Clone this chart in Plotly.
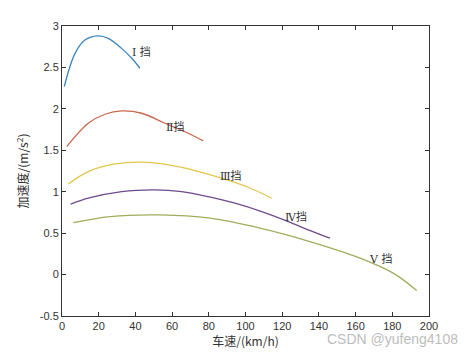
import plotly.graph_objects as go

# Gear curves: speed (km/h) vs acceleration (m/s^2)
g1_x = [1.25, 7.1, 12.5, 19.4, 25.2, 32.5, 38.0, 42.5]
g1_y = [2.27, 2.67, 2.83, 2.88, 2.85, 2.73, 2.61, 2.49]

g2_x = [2.6, 14.3, 23.4, 32.5, 43.4, 56.1, 68.8, 77.0]
g2_y = [1.544, 1.826, 1.935, 1.975, 1.947, 1.826, 1.706, 1.613]

g3_x = [3.4, 14.3, 28.9, 43.4, 57.9, 72.5, 87.0, 101.5, 114.3]
g3_y = [1.094, 1.243, 1.335, 1.356, 1.323, 1.255, 1.163, 1.054, 0.921]

g4_x = [4.7, 14.3, 32.5, 50.7, 65.2, 79.7, 94.3, 108.8, 123.3, 134.2, 146.0]
g4_y = [0.849, 0.922, 1.001, 1.022, 1.001, 0.941, 0.861, 0.76, 0.64, 0.54, 0.439]

g5_x = [6.2, 26.2, 53.4, 80.7, 107.9, 135.1, 162.4, 180.5, 193.3]
g5_y = [0.627, 0.70, 0.72, 0.68, 0.56, 0.398, 0.198, 0.017, -0.193]

labels = ["Ⅰ 挡", "Ⅱ挡", "Ⅲ挡", "Ⅳ挡", "Ⅴ 挡"]
label_x = [37, 55.6, 85, 120.4, 166]
label_y = [2.69, 1.78, 1.19, 0.70, 0.19]

x_ticks = [0, 20, 40, 60, 80, 100, 120, 140, 160, 180, 200]
y_ticks = [-0.5, 0, 0.5, 1, 1.5, 2, 2.5, 3]

colors = ["#3a86c0", "#c8684e", "#e3c64a", "#6e4a8e", "#9fae5c"]
series = [(g1_x, g1_y), (g2_x, g2_y), (g3_x, g3_y), (g4_x, g4_y), (g5_x, g5_y)]

fig = go.Figure()
for (xs, ys), c in zip(series, colors):
    fig.add_trace(go.Scatter(x=xs, y=ys, mode="lines",
                             line=dict(color=c, width=1.3, shape="spline", smoothing=1.0),
                             showlegend=False, hoverinfo="skip"))

for t, lx, ly in zip(labels, label_x, label_y):
    fig.add_annotation(x=lx, y=ly, text=t, showarrow=False, xanchor="left", yanchor="middle",
                       font=dict(family="DejaVu Serif, Noto Sans CJK SC", size=11, color="#333333"))

fig.add_annotation(xref="paper", yref="paper", x=1.084, y=-0.079, text="CSDN @yufeng4108",
                   showarrow=False, xanchor="right", yanchor="middle",
                   font=dict(family="Liberation Sans, Arial", size=14, color="#bdbdbd"))

axis_common = dict(showgrid=False, zeroline=False, showline=True, linecolor="#333333", linewidth=1,
                   mirror="ticks", ticks="inside", ticklen=4, tickcolor="#333333", tickwidth=1,
                   tickfont=dict(family="Liberation Sans, Arial", size=11, color="#333333"))

fig.update_xaxes(range=[0, 200], tickvals=x_ticks, ticktext=[str(v) for v in x_ticks],
                 title=dict(text="车速/(km/h)", standoff=5,
                            font=dict(family="Noto Sans CJK SC, Liberation Sans", size=12, color="#333333")),
                 **axis_common)
fig.update_yaxes(range=[-0.5, 3], tickvals=y_ticks, ticktext=[("%g" % v) for v in y_ticks],
                 title=dict(text="加速度/(m/s<sup>2</sup>)", standoff=8,
                            font=dict(family="Noto Sans CJK SC, Liberation Sans", size=12, color="#333333")),
                 **axis_common)

fig.update_layout(width=474, height=355,
                  margin=dict(l=62, r=45, t=26, b=39, autoexpand=False),
                  paper_bgcolor="white", plot_bgcolor="white")

fig.write_html("out.html", config={"displayModeBar": False},
               post_script="document.body.style.margin='0';document.body.style.overflow='hidden';")
